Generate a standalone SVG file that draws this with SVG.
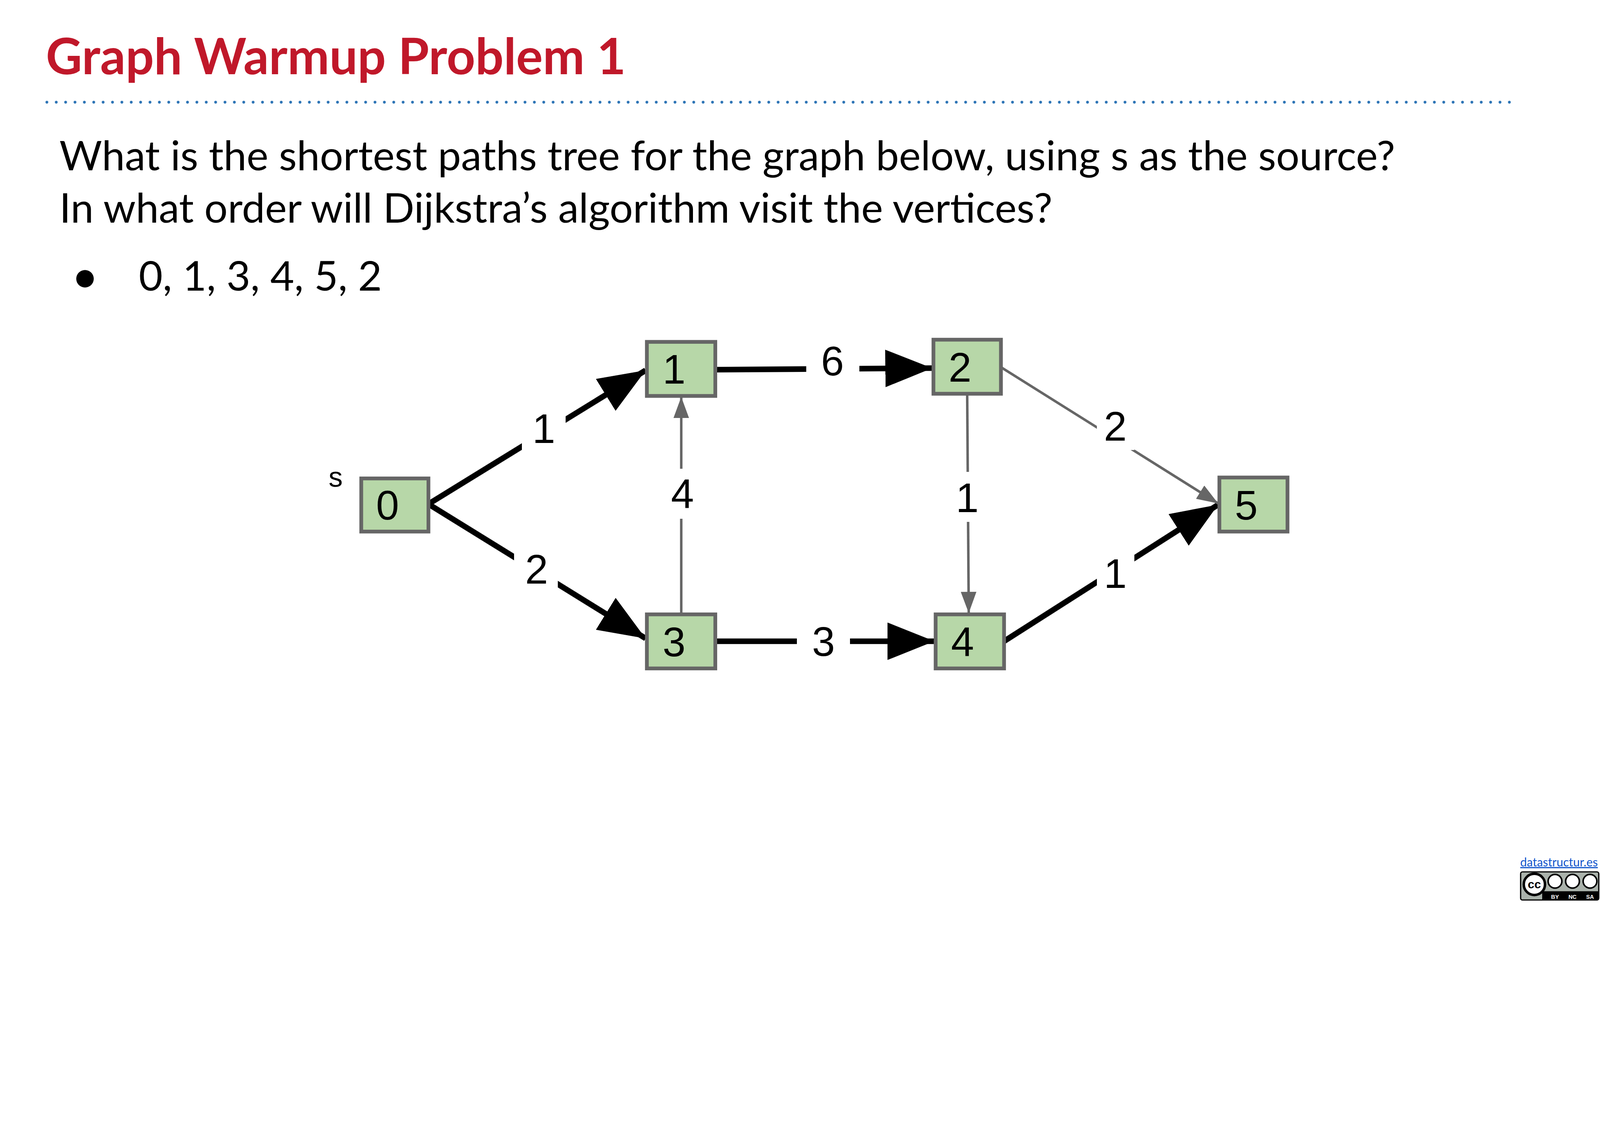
<svg xmlns="http://www.w3.org/2000/svg" width="5120" height="2880" viewBox="0 0 5120 2880">
<style>
.node rect{fill:#b7d7a8;stroke:#666;stroke-width:12}
.lbl{font-family:"Liberation Sans",Arial,sans-serif;font-size:132px;fill:#000;text-anchor:middle}
.body{font-family:Lato,"Open Sans",sans-serif;font-size:132px;fill:#000}
.thick{stroke:#000;stroke-width:18;fill:none}
.thin{stroke:#666;stroke-width:8;fill:none}
.bg{fill:#fff}
</style>
<defs>
<marker id="ab" markerUnits="userSpaceOnUse" markerWidth="160" markerHeight="120" refX="150" refY="60" orient="auto"><path d="M0,0 L150,60 L0,120 z" fill="#000"/></marker>
<marker id="ag" markerUnits="userSpaceOnUse" markerWidth="70" markerHeight="50" refX="68" refY="25" orient="auto"><path d="M0,0 L68,25 L0,50 z" fill="#666"/></marker>
</defs>
<rect width="5120" height="2880" fill="#fff"/>
<g transform="scale(0.8)">
<text x="147" y="238" font-family="Lato,'Open Sans',sans-serif" font-weight="bold" font-size="160" fill="#c0182a">Graph Warmup Problem 1</text>
<line x1="150" y1="327" x2="4850" y2="327" stroke="#2e75b6" stroke-width="9" stroke-dasharray="0,30" stroke-linecap="round"/>
<text class="body" x="190" y="545">What is the shortest paths tree for the graph below, using s as the source?</text>
<text class="body" x="190" y="712">In what order will Dijkstra’s algorithm visit the vertices?</text>
<circle cx="272" cy="892" r="28" fill="#000"/>
<text class="body" x="444" y="930">0, 1, 3, 4, 5, 2</text>
<g id="edges">
<line class="thick" x1="1371" y1="1613" x2="2066" y2="1185" marker-end="url(#ab)"/>
<line class="thick" x1="1371" y1="1613" x2="2066" y2="2043" marker-end="url(#ab)"/>
<line class="thick" x1="2289" y1="1183" x2="2983" y2="1178" marker-end="url(#ab)"/>
<line class="thick" x1="2289" y1="2052" x2="2990" y2="2052" marker-end="url(#ab)"/>
<line class="thick" x1="3213" y1="2052" x2="3898" y2="1615" marker-end="url(#ab)"/>
<line class="thin" x1="2180" y1="1966" x2="2180" y2="1270" marker-end="url(#ag)"/>
<line class="thin" x1="3095" y1="1260" x2="3100" y2="1962" marker-end="url(#ag)"/>
<line class="thin" x1="3203" y1="1175" x2="3898" y2="1611" marker-end="url(#ag)"/>
<rect class="bg" x="1670" y="1290" width="140" height="150"/>
<text class="lbl" x="1740" y="1417">1</text>
<rect class="bg" x="1645" y="1740" width="140" height="150"/>
<text class="lbl" x="1717" y="1868">2</text>
<rect class="bg" x="2580" y="1080" width="170" height="150"/>
<text class="lbl" x="2664" y="1201">6</text>
<rect class="bg" x="2130" y="1500" width="110" height="160"/>
<text class="lbl" x="2184" y="1626">4</text>
<rect class="bg" x="3040" y="1510" width="110" height="160"/>
<text class="lbl" x="3095" y="1639">1</text>
<rect class="bg" x="3510" y="1290" width="120" height="150"/>
<text class="lbl" x="3569" y="1410">2</text>
<rect class="bg" x="2550" y="1970" width="170" height="160"/>
<text class="lbl" x="2635" y="2099">3</text>
<rect class="bg" x="3510" y="1760" width="120" height="150"/>
<text class="lbl" x="3569" y="1881">1</text>
</g>
<text x="1074" y="1557" font-family="'Liberation Sans',sans-serif" font-size="90" text-anchor="middle">s</text>
<g id="n0" class="node"><rect x="1156" y="1531" width="215" height="170"/><text class="lbl" x="1240" y="1663">0</text></g>
<g id="n1" class="node"><rect x="2070" y="1094" width="219" height="173"/><text class="lbl" x="2157" y="1228">1</text></g>
<g id="n2" class="node"><rect x="2987" y="1087" width="216" height="173"/><text class="lbl" x="3072" y="1221">2</text></g>
<g id="n3" class="node"><rect x="2070" y="1966" width="219" height="173"/><text class="lbl" x="2157" y="2100">3</text></g>
<g id="n4" class="node"><rect x="2994" y="1966" width="219" height="173"/><text class="lbl" x="3080" y="2100">4</text></g>
<g id="n5" class="node"><rect x="3902" y="1528" width="218" height="173"/><text class="lbl" x="3988" y="1662">5</text></g>
<text x="5113" y="2772" font-family="Lato,'Open Sans',sans-serif" font-size="38" fill="#1155cc" text-anchor="end" text-decoration="underline">datastructur.es</text>
<g id="cc">
<rect x="4866" y="2790" width="250" height="90" rx="6" fill="#aab2ab" stroke="#000" stroke-width="4"/>
<rect x="4935" y="2852" width="181" height="28" fill="#000"/>
<circle cx="4910" cy="2830" r="34" fill="#fff" stroke="#000" stroke-width="8"/>
<text x="4910" y="2843" font-family="'Liberation Sans',sans-serif" font-weight="bold" font-size="38" text-anchor="middle">cc</text>
<circle cx="4976" cy="2820" r="22" fill="#fff" stroke="#000" stroke-width="5"/>
<circle cx="5032" cy="2820" r="22" fill="#fff" stroke="#000" stroke-width="5"/>
<circle cx="5088" cy="2820" r="22" fill="#fff" stroke="#000" stroke-width="5"/>
<text x="4976" y="2876" font-family="'Liberation Sans',sans-serif" font-weight="bold" font-size="18" fill="#fff" text-anchor="middle">BY</text>
<text x="5032" y="2876" font-family="'Liberation Sans',sans-serif" font-weight="bold" font-size="18" fill="#fff" text-anchor="middle">NC</text>
<text x="5088" y="2876" font-family="'Liberation Sans',sans-serif" font-weight="bold" font-size="18" fill="#fff" text-anchor="middle">SA</text>
</g>
</g>
</svg>
